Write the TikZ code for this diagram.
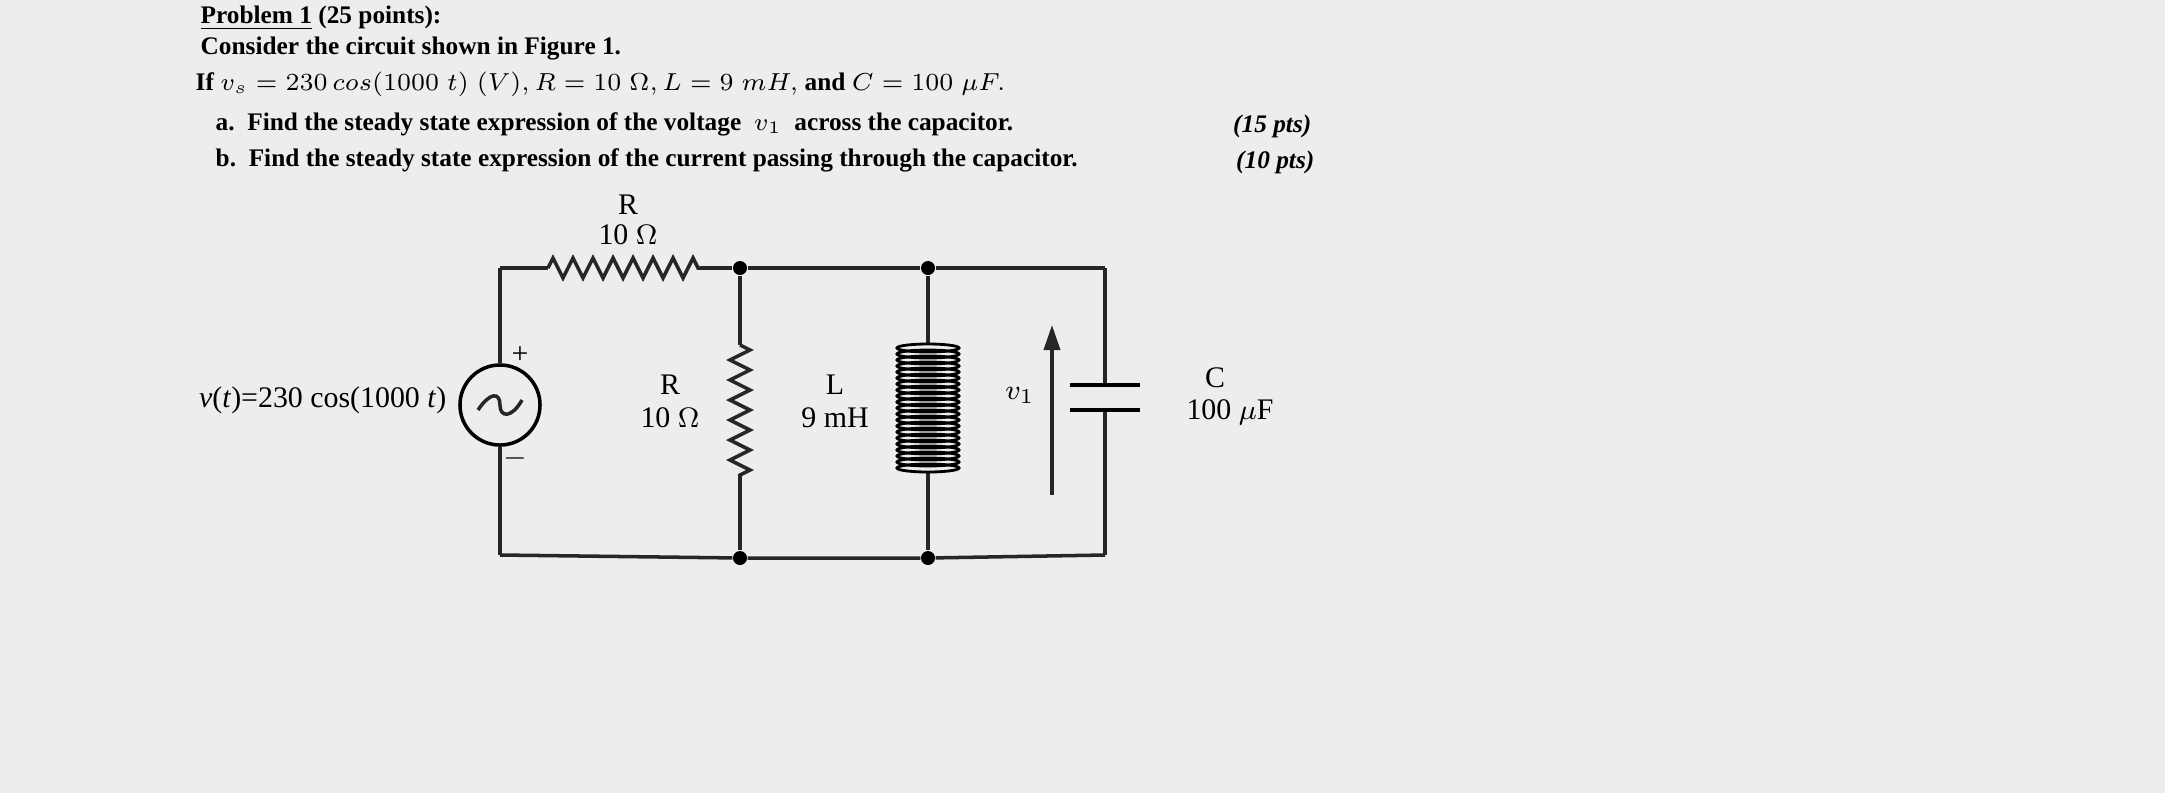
\documentclass[tikz,border=0pt]{standalone}
\usepackage{fontspec}
\setmainfont{Liberation Serif}
\usetikzlibrary{arrows.meta,decorations.pathmorphing}
\begin{document}
\begin{tikzpicture}[x=0.01cm,y=-0.01cm,
  txt/.style={font=\fontsize{7.2}{9}\selectfont\bfseries, anchor=west, inner sep=0},
  ctxt/.style={font=\fontsize{8.5}{10}\selectfont, inner sep=0},
  wire/.style={line width=1pt, black!85},
  dot/.style={circle, fill=black, inner sep=0, minimum size=0.14cm},
  zz/.style={wire, decorate, decoration={zigzag, segment length=0.2cm, amplitude=0.1cm}}]
\fill[black!7] (0,0) rectangle (2165,793);
\useasboundingbox (0,0) rectangle (2165,793);
% text
\node[txt] (t1) at (200,18) {\underline{Problem 1} (25 points):};
\node[txt] (t2) at (200,48) {Consider the circuit shown in Figure 1.};
\node[txt] (t3) at (195,84) {If $v_s=230\,cos(1000\;t)\;(V), R=10\;\Omega, L=9\;mH,$ and $C=100\;\mu F.$};
\node[txt] (t4) at (215,124) {a.\ \ Find the steady state expression of the voltage \ $v_1$ \ across the capacitor.};
\node[txt, anchor=east] (t5) at (1312,126) {\itshape (15 pts)};
\node[txt] (t6) at (215,160) {b.\ \ Find the steady state expression of the current passing through the capacitor.};
\node[txt, anchor=east] (t7) at (1315,162) {\itshape (10 pts)};
% nodes
\coordinate (tl) at (500,268); \coordinate (bl) at (500,555);
\coordinate (tr) at (1105,268); \coordinate (br) at (1105,555);
\node[dot] (n1) at (740,268) {}; \node[dot] (n2) at (928,268) {};
\node[dot] (n3) at (740,558) {}; \node[dot] (n4) at (928,558) {};
\coordinate (r1a) at (548,268); \coordinate (r1b) at (700,268);
\draw[wire] (tl) -- (r1a); \draw[zz] (r1a) -- (r1b); \draw[wire] (r1b) -- (n1) -- (n2) -- (tr);
\draw[wire] (bl) -- (n3) -- (n4) -- (br);
% source
\node[draw, circle, line width=1pt, minimum size=0.8cm] (src) at (500,405) {};
\draw[wire] (tl) -- (src.north); \draw[wire] (src.south) -- (bl);
\draw[wire] (478,410) .. controls (490,392) and (500,392) .. (500,405) .. controls (500,418) and (512,418) .. (522,400);
\node[ctxt] (plus) at (520,355) {+};
\node[ctxt] (minus) at (515,458) {$-$};
\node[ctxt, anchor=east] (vl) at (447,400) {\textit{v}(\textit{t})=230 cos(1000 \textit{t})};
% R2
\coordinate (r2a) at (740,345); \coordinate (r2b) at (740,480);
\draw[wire] (n1) -- (r2a); \draw[zz] (r2a) -- (r2b); \draw[wire] (r2b) -- (n3);
\node[ctxt] (Rl) at (670,385) {R}; \node[ctxt] (Rv) at (670,418) {10 $\Omega$};
\node[ctxt] (Rt) at (628,205) {R}; \node[ctxt] (Rtv) at (628,235) {10 $\Omega$};
% inductor
\coordinate (la) at (928,345); \coordinate (lb) at (928,472);
\draw[wire] (n2) -- (la); \draw[wire] (lb) -- (n4);
\foreach \y in {348,354,...,468} \draw[line width=0.8pt] (928,\y) ellipse (31 and 4);
\node[ctxt] (Ll) at (835,385) {L}; \node[ctxt] (Lv) at (835,418) {9 mH};
% capacitor
\coordinate (ca) at (1105,385); \coordinate (cb) at (1105,410);
\draw[wire] (tr) -- (ca); \draw[wire] (cb) -- (br);
\draw[line width=1.3pt] (1070,385) -- (1140,385); \draw[line width=1.3pt] (1070,410) -- (1140,410);
\node[ctxt] (Cl) at (1215,378) {C}; \node[ctxt] (Cv) at (1230,412) {100 $\mu$F};
% v1 arrow
\coordinate (va) at (1052,495); \coordinate (vb) at (1052,325);
\draw[wire, -{Triangle[length=0.25cm,width=0.16cm]}] (va) -- (vb);
\node[ctxt] (v1) at (1020,395) {$v_1$};
\end{tikzpicture}
\end{document}
